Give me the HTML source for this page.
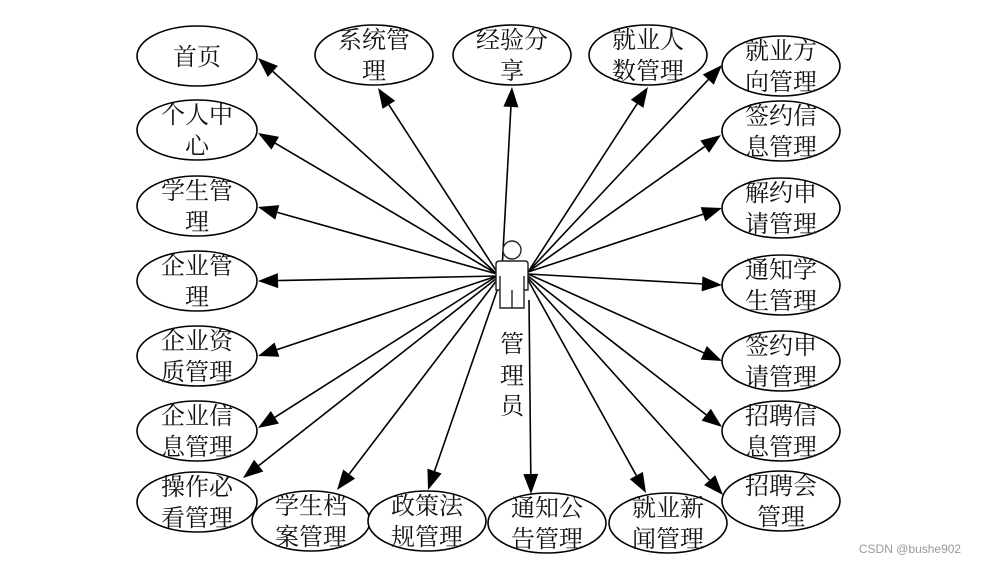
<!DOCTYPE html>
<html><head><meta charset="utf-8"><style>
body{margin:0;background:#fff;width:981px;height:563px;overflow:hidden}
svg text{font-family:"Liberation Serif","Noto Serif CJK SC","Noto Sans CJK SC",serif;font-size:24px;fill:#111;text-anchor:middle}
</style></head><body>
<svg id="s" width="981" height="563" viewBox="0 0 981 563" xmlns="http://www.w3.org/2000/svg">
<g fill="#fff" stroke="#000" stroke-width="1.6">
<ellipse cx="197" cy="56" rx="60" ry="30"/>
<ellipse cx="197" cy="130" rx="60" ry="30"/>
<ellipse cx="197" cy="206" rx="60" ry="30"/>
<ellipse cx="197" cy="281" rx="60" ry="30"/>
<ellipse cx="197" cy="356" rx="60" ry="30"/>
<ellipse cx="197" cy="431" rx="60" ry="30"/>
<ellipse cx="197" cy="502" rx="60" ry="30"/>
<ellipse cx="374" cy="55" rx="59" ry="30"/>
<ellipse cx="512" cy="55" rx="59" ry="30"/>
<ellipse cx="648" cy="55" rx="59" ry="30"/>
<ellipse cx="781" cy="66" rx="59" ry="30"/>
<ellipse cx="781" cy="131" rx="59" ry="30"/>
<ellipse cx="781" cy="208" rx="59" ry="30"/>
<ellipse cx="781" cy="285" rx="59" ry="30"/>
<ellipse cx="781" cy="361" rx="59" ry="30"/>
<ellipse cx="781" cy="431" rx="59" ry="30"/>
<ellipse cx="781" cy="501" rx="59" ry="30"/>
<ellipse cx="311" cy="521" rx="59" ry="30"/>
<ellipse cx="427" cy="521" rx="59" ry="30"/>
<ellipse cx="547" cy="523" rx="59" ry="30"/>
<ellipse cx="668" cy="523" rx="59" ry="30"/>
</g>
<g id="lines" stroke="#000" stroke-width="1.6"></g>
<g id="heads" fill="#000"></g>
<!-- actor -->
<g fill="#fff" stroke="#222" stroke-width="1.4">
<circle cx="512" cy="250" r="9"/>
<path d="M500 261 H525 Q528 261 528 264 V290 H524 V308 H500 V290 H496 V264 Q496 261 500 261 Z"/>
<path d="M500 276 V290 M524 276 V290 M512 290 V308" fill="none"/>
</g>
<g>
<text x="512" y="352">管</text><text x="512" y="384">理</text><text x="512" y="414">员</text>
<text x="197" y="65">首页</text>
<text x="197" y="123">个人中</text><text x="197" y="154">心</text>
<text x="197" y="199">学生管</text><text x="197" y="230">理</text>
<text x="197" y="274">企业管</text><text x="197" y="305">理</text>
<text x="197" y="349">企业资</text><text x="197" y="380">质管理</text>
<text x="197" y="424">企业信</text><text x="197" y="455">息管理</text>
<text x="197" y="495">操作必</text><text x="197" y="526">看管理</text>
<text x="374" y="48">系统管</text><text x="374" y="79">理</text>
<text x="512" y="48">经验分</text><text x="512" y="79">享</text>
<text x="648" y="48">就业人</text><text x="648" y="79">数管理</text>
<text x="781" y="59">就业方</text><text x="781" y="90">向管理</text>
<text x="781" y="124">签约信</text><text x="781" y="155">息管理</text>
<text x="781" y="201">解约申</text><text x="781" y="232">请管理</text>
<text x="781" y="278">通知学</text><text x="781" y="309">生管理</text>
<text x="781" y="354">签约申</text><text x="781" y="385">请管理</text>
<text x="781" y="424">招聘信</text><text x="781" y="455">息管理</text>
<text x="781" y="494">招聘会</text><text x="781" y="525">管理</text>
<text x="311" y="514">学生档</text><text x="311" y="545">案管理</text>
<text x="427" y="514">政策法</text><text x="427" y="545">规管理</text>
<text x="547" y="516">通知公</text><text x="547" y="547">告管理</text>
<text x="668" y="516">就业新</text><text x="668" y="547">闻管理</text>
</g>
<text x="910" y="553" style="font-family:'Liberation Sans',sans-serif;font-size:12px;fill:#999">CSDN @bushe902</text>
</svg>
<script>
// [tipx,tipy,startx,starty]
var A=[[258,58,497,274],[258,133,497,274],[258,207,497,274],[258,281,497,276],[258,356,497,276],[258,428,497,276],[243,478,497,278],
[378,88,497,272],[512,87,502,270],[648,87,528,272],[722,65,528,272],[721,135,528,272],[722,208,528,272],[722,285,528,274],[722,361,528,274],[722,427,528,276],[723,495,528,278],
[337,490,497,280],[428,490,500,282],[531,494,529,300],[646,493,528,280]];
var NS="http://www.w3.org/2000/svg",L=document.getElementById('lines'),H=document.getElementById('heads');
A.forEach(function(a){
 var ex=a[0],ey=a[1],sx=a[2],sy=a[3];
 var dx=ex-sx,dy=ey-sy,len=Math.hypot(dx,dy),ux=dx/len,uy=dy/len;
 var bx=ex-ux*20,by=ey-uy*20;
 var l=document.createElementNS(NS,'line');l.setAttribute('x1',sx);l.setAttribute('y1',sy);l.setAttribute('x2',bx);l.setAttribute('y2',by);L.appendChild(l);
 var p=document.createElementNS(NS,'polygon');
 p.setAttribute('points',ex+','+ey+' '+(bx-uy*7.5)+','+(by+ux*7.5)+' '+(bx+uy*7.5)+','+(by-ux*7.5));H.appendChild(p);
});
</script>
</body></html>
